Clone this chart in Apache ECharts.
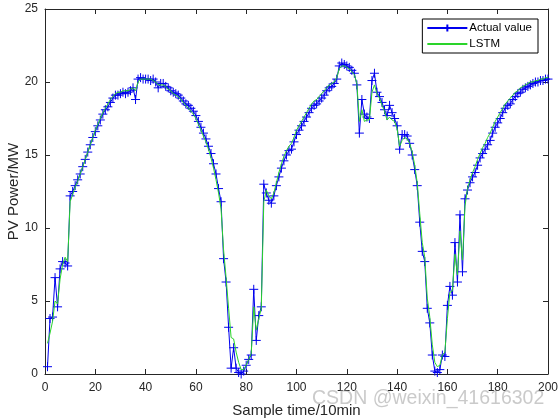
<!DOCTYPE html>
<html>
<head>
<meta charset="utf-8">
<script src="https://cdn.jsdelivr.net/npm/echarts@6/dist/echarts.min.js"></script>
<style>
html,body{margin:0;padding:0;background:#fff;}
#c{width:560px;height:420px;}
</style>
</head>
<body>
<div id="c"></div>
<script>
const actualValues = [
  0.5, 3.8, 3.9, 6.6, 4.6, 7.2, 7.7, 7.6, 7.4, 12.2,
  12.5, 12.9, 13.3, 13.7, 14.2, 14.7, 15.2, 15.7, 16.2, 16.6,
  17.0, 17.4, 17.8, 18.1, 18.3, 18.6, 18.9, 19.1, 19.1, 19.2,
  19.3, 19.2, 19.3, 19.4, 19.6, 18.8, 20.2, 20.3, 20.2, 20.2,
  20.2, 20.1, 20.2, 20.0, 19.6, 19.9, 19.9, 19.7, 19.6, 19.4,
  19.3, 19.2, 19.1, 18.9, 18.7, 18.5, 18.4, 18.2, 18.0, 17.7,
  17.3, 16.9, 16.5, 16.1, 15.6, 15.1, 14.4, 13.7, 12.7, 11.8,
  7.9, 6.3, 3.2, 0.4, 1.8, 0.4, 0.1, 0.0, 0.2, 0.6,
  1.0, 1.3, 5.8, 2.3, 4.0, 4.6, 13.0, 12.4, 11.9, 11.7,
  12.2, 12.9, 13.5, 14.1, 14.6, 15.0, 15.3, 15.4, 15.9, 16.4,
  16.7, 17.0, 17.3, 17.6, 17.9, 18.2, 18.4, 18.5, 18.7, 18.9,
  19.1, 19.4, 19.6, 19.7, 19.9, 20.2, 21.1, 21.3, 21.2, 21.1,
  21.0, 20.8, 20.6, 19.8, 16.5, 18.8, 17.8, 17.6, 17.5, 20.1,
  20.6, 19.3, 19.0, 18.6, 18.1, 17.7, 18.4, 17.9, 17.5, 17.0,
  15.4, 16.4, 16.4, 16.3, 15.8, 15.0, 14.0, 12.9, 10.4, 8.4,
  7.7, 4.5, 3.5, 1.3, 0.2, 0.1, 0.3, 1.3, 1.2, 4.7,
  6.0, 5.4, 9.0, 6.3, 10.9, 7.0, 12.0, 12.6, 13.1, 13.5,
  13.8, 14.3, 14.8, 15.1, 15.4, 15.7, 16.0, 16.5, 16.9, 17.2,
  17.5, 17.9, 18.2, 18.4, 18.5, 18.8, 19.0, 19.2, 19.3, 19.5,
  19.6, 19.7, 19.8, 19.9, 20.0, 20.0, 20.1, 20.1, 20.2, 20.2
];
const lstmValues = [
  2.1, 2.8, 3.6, 5.0, 4.8, 6.5, 7.5, 8.0, 7.7, 11.8,
  12.3, 12.8, 13.2, 13.7, 14.2, 14.7, 15.2, 15.7, 16.2, 16.7,
  17.1, 17.5, 17.9, 18.2, 18.5, 18.8, 19.0, 19.2, 19.3, 19.3,
  19.4, 19.4, 19.4, 19.5, 19.6, 19.4, 20.0, 20.2, 20.2, 20.2,
  20.2, 20.2, 20.1, 20.0, 19.8, 19.8, 19.8, 19.7, 19.5, 19.4,
  19.2, 19.1, 19.0, 18.8, 18.6, 18.4, 18.2, 18.0, 17.8, 17.5,
  17.1, 16.7, 16.3, 15.9, 15.4, 14.8, 14.1, 13.3, 12.4, 11.3,
  8.5, 6.6, 4.5, 2.5, 2.4, 1.5, 0.8, 0.3, 0.3, 0.6,
  1.0, 1.4, 4.6, 3.0, 3.8, 4.5, 11.8, 12.6, 12.2, 12.0,
  12.4, 13.1, 13.8, 14.4, 14.9, 15.3, 15.6, 15.8, 16.2, 16.7,
  17.0, 17.3, 17.6, 17.9, 18.2, 18.5, 18.7, 18.8, 19.0, 19.2,
  19.4, 19.6, 19.8, 19.9, 20.0, 20.3, 20.9, 21.1, 21.1, 21.0,
  20.9, 20.7, 20.5, 19.9, 17.3, 18.1, 17.3, 17.4, 17.4, 19.3,
  19.8, 19.2, 18.9, 18.4, 18.0, 17.4, 17.6, 17.4, 17.3, 16.8,
  15.6, 16.0, 16.2, 16.1, 15.8, 15.2, 14.3, 13.1, 11.0, 9.0,
  8.0, 5.2, 3.9, 2.0, 0.8, 0.5, 0.6, 1.3, 1.5, 3.8,
  5.6, 5.7, 8.2, 6.8, 9.8, 7.8, 11.5, 12.7, 13.3, 13.8,
  14.2, 14.7, 15.1, 15.5, 15.8, 16.2, 16.5, 16.9, 17.3, 17.6,
  17.9, 18.2, 18.5, 18.7, 18.9, 19.1, 19.3, 19.4, 19.6, 19.7,
  19.8, 19.9, 20.0, 20.0, 20.1, 20.1, 20.2, 20.2, 20.3, 20.3
];
const seriesNames = ['Actual value', 'LSTM'];
const xAxisName = 'Sample time/10min';
const yAxisName = 'PV Power/MW';
const watermarkText = 'CSDN @weixin_41616302';

const sampleIndex = actualValues.map((_, i) => i + 1);
const actualData = sampleIndex.map((x, i) => [x, actualValues[i]]);
const lstmData = sampleIndex.map((x, i) => [x, lstmValues[i]]);

const axisColor = '#262626';
const font = 'Liberation Sans, Arial, Helvetica, sans-serif';
const blue = '#0000ee';
const green = '#2ad42a';

function xAx(pos, labels) {
  return {
    type: 'value', min: 0, max: 200, interval: 20, position: pos,
    axisLine: { show: true, onZero: false, lineStyle: { color: axisColor, width: 1 } },
    axisTick: { show: true, inside: true, length: 5, lineStyle: { color: axisColor } },
    axisLabel: { show: labels, fontSize: 12, color: axisColor, fontFamily: font, margin: 8 },
    splitLine: { show: false },
    name: labels ? xAxisName : '', nameLocation: 'middle', nameGap: 29, nameMoveOverlap: false,
    nameTextStyle: { fontSize: 15, color: axisColor, fontFamily: font }
  };
}
function yAx(pos, labels) {
  return {
    type: 'value', min: 0, max: 25, interval: 5, position: pos,
    axisLine: { show: true, onZero: false, lineStyle: { color: axisColor, width: 1 } },
    axisTick: { show: true, inside: true, length: 5, lineStyle: { color: axisColor } },
    axisLabel: { show: labels, fontSize: 12, color: axisColor, fontFamily: font, margin: 7 },
    splitLine: { show: false },
    name: labels ? yAxisName : '', nameLocation: 'middle', nameGap: 24, nameMoveOverlap: false,
    nameTextStyle: { fontSize: 15, color: axisColor, fontFamily: font }
  };
}

const chart = echarts.init(document.getElementById('c'), null, { renderer: 'canvas' });
chart.setOption({
  animation: false,
  backgroundColor: '#fff',
  grid: { left: 45, right: 12, top: 9, bottom: 46, containLabel: false, outerBoundsMode: 'none' },
  xAxis: [xAx('bottom', true), xAx('top', false)],
  yAxis: [yAx('left', true), yAx('right', false)],
  legend: {
    data: [
      { name: seriesNames[0] },
      { name: seriesNames[1], itemStyle: { color: 'rgba(0,0,0,0)', borderWidth: 0 } }
    ],
    orient: 'vertical',
    right: 22, top: 19,
    backgroundColor: '#fff',
    borderColor: '#000', borderWidth: 1, borderRadius: 0,
    padding: [3, 6, 3, 4],
    itemGap: 4, itemWidth: 40, itemHeight: 9,
    textStyle: { fontSize: 11.5, color: '#000', fontFamily: font, padding: [0, 0, 0, -3] }
  },
  series: [
    {
      name: seriesNames[0], type: 'line', data: actualData,
      xAxisIndex: 0, yAxisIndex: 0,
      symbol: 'path://M0,5L10,5M5,0L5,10', symbolSize: 9, showSymbol: true,
      lineStyle: { color: blue, width: 1 },
      itemStyle: { color: 'rgba(0,0,0,0)', borderColor: blue, borderWidth: 1 },
      z: 2
    },
    {
      name: seriesNames[1], type: 'line', data: lstmData,
      xAxisIndex: 0, yAxisIndex: 0,
      symbol: 'none', showSymbol: false,
      lineStyle: { color: green, width: 1 },
      itemStyle: { color: green },
      z: 3
    }
  ],
  graphic: [{
    type: 'text', left: 312, top: 389, silent: true, z: 100,
    style: { text: watermarkText, fontSize: 19.5, fontFamily: font, fill: 'rgba(150,150,150,0.5)' }
  }]
});
</script>
</body>
</html>
